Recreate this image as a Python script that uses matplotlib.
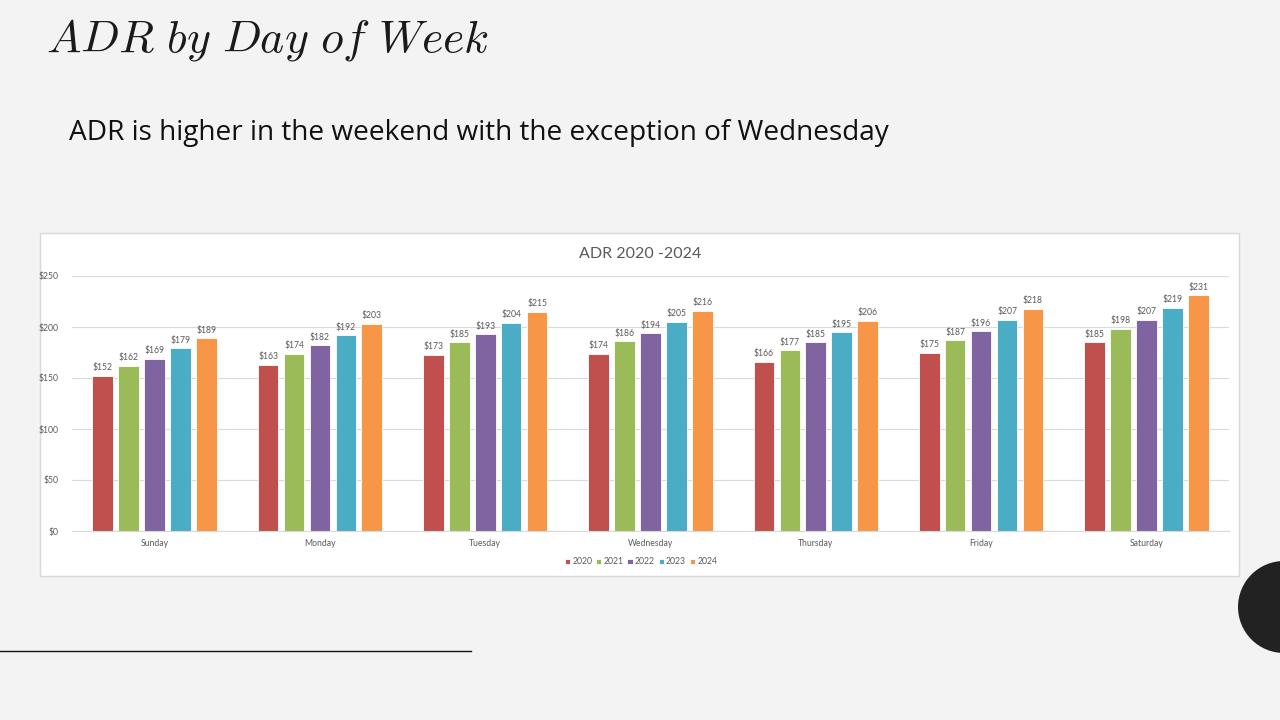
import numpy as np
import matplotlib
matplotlib.use('Agg')
import matplotlib.pyplot as plt
from matplotlib.patches import Rectangle, Ellipse
from matplotlib.lines import Line2D

days = ['Sunday', 'Monday', 'Tuesday', 'Wednesday', 'Thursday', 'Friday', 'Saturday']
years = ['2020', '2021', '2022', '2023', '2024']
adr_2020 = [152, 163, 173, 174, 166, 175, 185]
adr_2021 = [162, 174, 185, 186, 177, 187, 198]
adr_2022 = [169, 182, 193, 194, 185, 196, 207]
adr_2023 = [179, 192, 204, 205, 195, 207, 219]
adr_2024 = [189, 203, 215, 216, 206, 218, 231]
series = [adr_2020, adr_2021, adr_2022, adr_2023, adr_2024]
colors = ['#C0504D', '#9BBB59', '#8064A2', '#4BACC6', '#F79646']
y_ticks = [0, 50, 100, 150, 200, 250]

plt.rcParams['mathtext.fontset'] = 'cm'

W, H = 1280, 720
fig = plt.figure(figsize=(12.8, 7.2), dpi=100)
fig.patch.set_facecolor('#f3f3f3')

# slide title and subtitle
fig.text(46 / W, 1 - 40 / H, r'$ADR\ by\ Day\ of\ Week$', fontsize=33,
         color='#1a1a1a', va='center', ha='left')
fig.text(69 / W, 1 - 133 / H, 'ADR is higher in the weekend with the exception of Wednesday',
         fontsize=20.2, family='Open Sans', color='#111111', va='center', ha='left')

# chart box
fig.patches.append(Rectangle((40 / W, 1 - 576 / H), 1199 / W, 343 / H,
                             transform=fig.transFigure, facecolor='white',
                             edgecolor='#d9d9d9', linewidth=1, zorder=-1))

# decorations
fig.patches.append(Ellipse((1284 / W, 1 - 607 / H), 92 / W, 92 / H, transform=fig.transFigure,
                           facecolor='#222222', edgecolor='none'))
fig.lines.append(Line2D([0, 471 / W], [1 - 651 / H, 1 - 651 / H], transform=fig.transFigure,
                        color='#111111', linewidth=1))

ax = fig.add_axes([72 / W, 1 - 531 / H, 1157 / W, 255 / H])
ax.patch.set_alpha(0)
ax.set_zorder(2)

x = np.arange(len(days))
step = 0.157
width = 0.125
for i, (vals, col, yr) in enumerate(zip(series, colors, years)):
    pos = x + (i - 2) * step
    ax.bar(pos, vals, width, color=col, edgecolor='white', linewidth=0.6,
           label=yr, zorder=3)
    for px, v in zip(pos, vals):
        ax.text(px, v + 3.5, '\\$' + str(v), ha='center', va='bottom', fontsize=6.2,
                family='Lato', color='#595959')

ax.set_xlim(-0.5, 6.5)
ax.set_ylim(0, 250)
ax.set_yticks(y_ticks)
ax.set_yticklabels(['\\$' + str(t) for t in y_ticks])
ax.set_xticks(x)
ax.set_xticklabels(days)
for lbl in ax.get_xticklabels() + ax.get_yticklabels():
    lbl.set_family('Lato')
    lbl.set_fontsize(6.2)
    lbl.set_color('#595959')
ax.tick_params(length=0, pad=6)
ax.tick_params(axis='y', pad=10)
ax.grid(axis='y', color='#d9d9d9', linewidth=0.8, zorder=0)
for s in ['top', 'right', 'left']:
    ax.spines[s].set_visible(False)
ax.spines['bottom'].set_color('#d9d9d9')
ax.spines['bottom'].set_zorder(4)

fig.text(640 / W, 1 - 254 / H, 'ADR 2020 -2024', ha='center', va='center',
         fontsize=11.5, family='Lato', color='#595959')

leg = fig.legend(loc='center', bbox_to_anchor=(641 / W, 1 - 562 / H), ncol=5,
                 frameon=False, handlelength=0.6, handleheight=0.6,
                 handletextpad=0.25, columnspacing=0.45, prop={'family': 'Lato', 'size': 6.2})
for t in leg.get_texts():
    t.set_color('#595959')

fig.savefig('out.png', dpi=100, facecolor=fig.get_facecolor())
